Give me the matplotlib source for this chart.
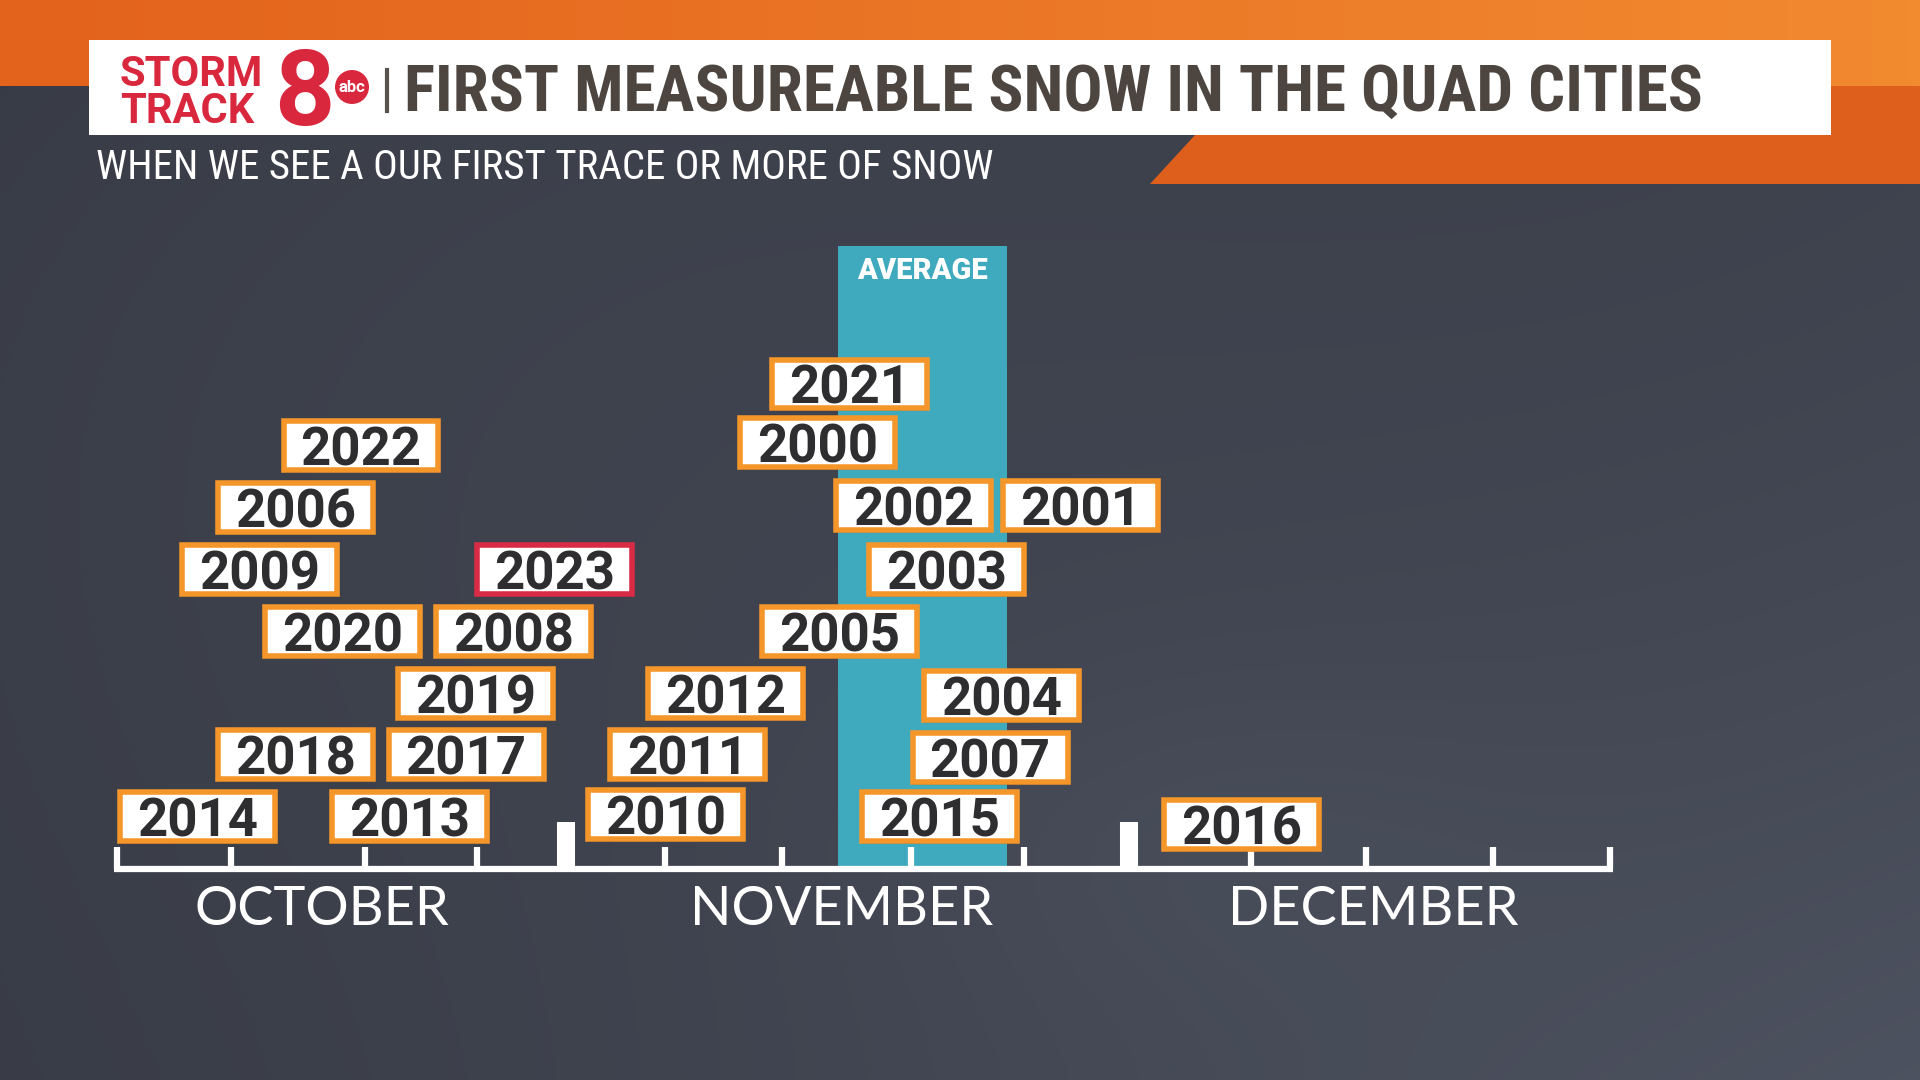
import numpy as np
import matplotlib.pyplot as plt
from matplotlib import font_manager
from matplotlib.patches import Rectangle, Polygon, Circle

# ---- data (day 1 = Oct 1, so Nov 1 = 32, Dec 1 = 62) ----
years = ['2014', '2013', '2010', '2015', '2016',
         '2018', '2017', '2011', '2007',
         '2019', '2012', '2004',
         '2020', '2008', '2005',
         '2009', '2023', '2003',
         '2006', '2002', '2001',
         '2022', '2000', '2021']
label_day = [12.4, 23.7, 37.3, 51.9, 68.0,
             17.6, 26.7, 38.5, 54.6,
             27.2, 40.5, 55.2,
             20.1, 29.2, 46.6,
             15.7, 31.4, 52.3,
             17.6, 50.5, 59.4,
             21.1, 45.4, 47.1]
stack_level = [0, 0, 0.03, 0, -0.12,
               1, 1, 1, 0.96,
               2, 2, 1.96,
               3, 3, 3,
               4, 4, 4,
               5, 5.03, 5.03,
               6, 6.05, 7]
highlight_year = '2023'

months = ['OCTOBER', 'NOVEMBER', 'DECEMBER']
month_label_day = [19.0, 46.7, 75.0]
month_start_day = [32, 62]
week_tick_day = [8.1, 14.2, 21.3, 27.3, 37.3, 43.5, 50.4, 56.4, 68.5, 74.6, 81.4, 87.6]
average_start, average_end = 46.5, 55.5

title = 'FIRST MEASUREABLE SNOW IN THE QUAD CITIES'
subtitle = 'WHEN WE SEE A OUR FIRST TRACE OR MORE OF SNOW'

ORANGE = '#f5962a'
RED = '#d92b45'
TEAL = '#3fa9bd'
DARK = '#2e2e30'

# look for a condensed face for the headline, fall back to a plain bold one
narrow_family, narrow_stretch = 'DejaVu Sans', 'normal'
prefer = ['Roboto Condensed', 'Liberation Sans Narrow', 'Open Sans Condensed',
          'Noto Sans', 'DejaVu Sans', 'Roboto', 'Open Sans', 'Lato', 'Inter']
cond = [f for f in font_manager.fontManager.ttflist
        if 'condensed' in str(f.stretch) or 'Narrow' in f.name or 'Condensed' in f.name]
for p in prefer:
    hit = [f for f in cond if f.name == p]
    if hit:
        narrow_family, narrow_stretch = p, hit[0].stretch
        break

fig = plt.figure(figsize=(19.2, 10.8), dpi=100)
renderer = fig.canvas.get_renderer()


def fit_width(txt, width_px):
    w = txt.get_window_extent(renderer).width
    txt.set_fontsize(txt.get_fontsize() * width_px / w)


# ---- background / header, in pixel coordinates ----
bg = fig.add_axes([0, 0, 1, 1])
bg.set_xlim(0, 1920)
bg.set_ylim(1080, 0)
bg.axis('off')

gy, gx = np.mgrid[0:1:270j, 0:1:480j]
t = (0.26 + 0.30 * gx + 0.16 * gy
     + 0.10 * np.sin(3.1 * gx + 1.3) * np.cos(2.4 * gy - 0.4)
     + 0.08 * np.exp(-((gx - 0.62) ** 2 + (gy - 0.78) ** 2) / 0.03))
t = np.clip(t, 0, 1)[..., None]
c0 = np.array([0x25, 0x27, 0x2e]) / 255
c1 = np.array([0x5a, 0x60, 0x70]) / 255
bg.imshow(c0 + (c1 - c0) * t, extent=(0, 1920, 1080, 0), aspect='auto', zorder=0)

band = np.linspace(0, 1, 200)[None, :, None]
o0 = np.array([0xe3, 0x62, 0x1c]) / 255
o1 = np.array([0xf2, 0x8a, 0x30]) / 255
bg.imshow(o0 + (o1 - o0) * band, extent=(0, 1920, 86, 0), aspect='auto', zorder=1)
bg.add_patch(Polygon([(1240, 86), (1920, 86), (1920, 184), (1150, 184)],
                     closed=True, facecolor='#de5f1c', edgecolor='none', zorder=1))
bg.add_patch(Rectangle((89, 40), 1742, 95, facecolor='white', edgecolor='none', zorder=2))

bg.text(120, 86, 'STORM', color='#d9283e', fontsize=30, fontweight='bold',
        family='Roboto', va='baseline', ha='left', zorder=3)
bg.text(120, 123, 'TRACK', color='#d9283e', fontsize=30, fontweight='bold',
        family='Roboto', va='baseline', ha='left', zorder=3)
bg.text(274, 125, '8', color='#d9283e', fontsize=76, fontweight='bold',
        family='Roboto', va='baseline', ha='left', zorder=3)
bg.add_patch(Circle((352, 87), 17, facecolor='#d9283e', edgecolor='none', zorder=3))
bg.text(352, 88, 'abc', color='white', fontsize=12, fontweight='bold',
        family='Roboto', va='center', ha='center', zorder=4)
bg.plot([387, 387], [70, 111], color='#5a524c', lw=3, zorder=3)
ttl = bg.text(404, 111, title, color='#4d4640', fontsize=44, fontweight='heavy',
              family=narrow_family, fontstretch=narrow_stretch,
              va='baseline', ha='left', zorder=3)
fit_width(ttl, 1298)
sub = bg.text(96, 179, subtitle, color='white', fontsize=25,
              family=narrow_family, fontstretch=narrow_stretch,
              va='baseline', ha='left', zorder=3)
fit_width(sub, 898)

# ---- timeline, in data coordinates (days / stack level) ----
ax = fig.add_axes([0, 0, 1, 1])
ax.set_xlim(1.88, 104.11)
ax.set_ylim(-4.258, 13.21)
ax.patch.set_alpha(0)
ax.axis('off')

base = -0.85
ax.add_patch(Rectangle((average_start, base), average_end - average_start, 9.23 - base,
                       facecolor=TEAL, edgecolor='none', zorder=1))
ax.text((average_start + average_end) / 2, 8.83, 'AVERAGE', color='white', fontsize=21,
        fontweight='heavy', family='Roboto', ha='center', va='center', zorder=2)

ax.plot([week_tick_day[0] - 0.15, week_tick_day[-1] + 0.15], [base, base],
        color='white', lw=4.5, solid_capstyle='butt', zorder=3)
ax.vlines(week_tick_day, base, -0.495, color='white', lw=4.5, zorder=3)
ax.vlines(month_start_day, base, -0.08, color='white', lw=13, zorder=3)

for name, d in zip(months, month_label_day):
    ax.text(d, -1.5, name, color='white', fontsize=39, family='Lato',
            ha='center', va='center', zorder=3)

box_w, box_h = 8.25, 0.79
for yr, d, lv in zip(years, label_day, stack_level):
    edge = RED if yr == highlight_year else ORANGE
    ax.add_patch(Rectangle((d - box_w / 2, lv - box_h / 2 - 0.05), box_w, box_h,
                           facecolor='#000000', alpha=0.25, edgecolor='none', zorder=4))
    ax.add_patch(Rectangle((d - box_w / 2, lv - box_h / 2), box_w, box_h,
                           facecolor='white', edgecolor=edge, lw=4, zorder=5))
    ax.text(d, lv, yr, color=DARK, fontsize=38, fontweight='bold', family='Roboto',
            ha='center', va='center_baseline', zorder=6)

fig.savefig('out.png', dpi=100)
